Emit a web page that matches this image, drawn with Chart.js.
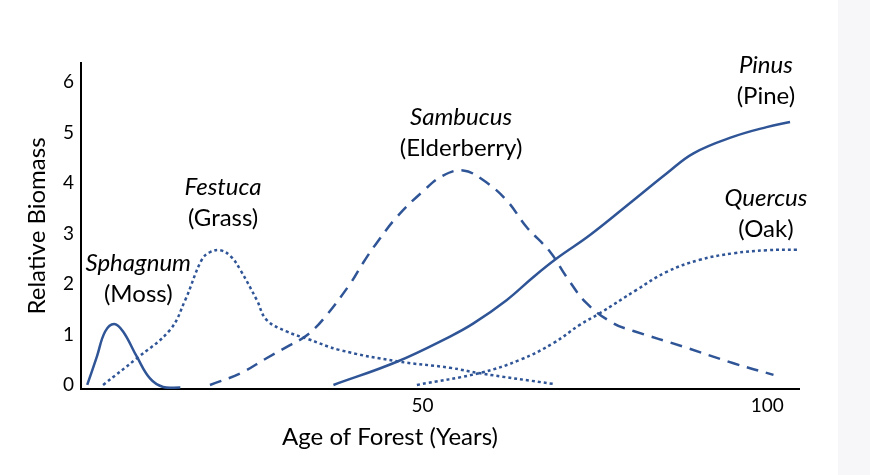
<!DOCTYPE html>
<html>
<head>
<meta charset="utf-8">
<script src="https://cdn.jsdelivr.net/npm/chart.js@4.4.1/dist/chart.umd.min.js"></script>
<style>
  html, body { margin: 0; padding: 0; }
  body { width: 870px; height: 475px; background: #f7f7f9; overflow: hidden; }
  #wrap { width: 838px; height: 475px; background: #fff; }
</style>
</head>
<body>
<div id="wrap"><canvas id="myChart" width="838" height="475"></canvas></div>
<script>
// values (age in years, relative biomass)
let sphagnum_x = [1.4, 2.8, 4.0, 5.3, 6.6, 8.6, 10.5, 12.4, 14.9];
let sphagnum_y = [0, 0.56, 1.06, 1.21, 1.06, 0.56, 0.13, -0.04, -0.05];

let festuca_x = [3.7, 8.6, 13.4, 15.6, 18.0, 19.2, 20.7, 22.2, 23.6, 26.0, 27.4, 30.3, 33.2, 38.1, 46.3, 54.0, 58.4, 69.0];
let festuca_y = [0, 0.53, 1.09, 1.68, 2.48, 2.63, 2.67, 2.55, 2.28, 1.68, 1.29, 1.06, 0.92, 0.69, 0.47, 0.34, 0.23, 0.02];

let sambucus_x = [19.2, 23.6, 27.4, 30.8, 33.2, 35.6, 39.5, 41.4, 43.4, 46.3, 50.1, 53.0, 55.9, 58.8, 62.2, 65.1, 68.5, 70.9, 73.8, 77.7, 80.6, 87.8, 95.1, 100.9];
let sambucus_y = [0, 0.23, 0.53, 0.79, 0.98, 1.3, 2.0, 2.42, 2.82, 3.33, 3.84, 4.15, 4.25, 4.06, 3.66, 3.13, 2.64, 2.14, 1.62, 1.22, 1.07, 0.76, 0.43, 0.2];

let pinus_x = [37.1, 46.3, 54.0, 57.4, 62.2, 66.1, 69.5, 74.3, 80.6, 85.4, 89.3, 95.1, 99.9, 103.3];
let pinus_y = [0, 0.46, 0.96, 1.22, 1.68, 2.14, 2.51, 2.97, 3.66, 4.19, 4.59, 4.92, 5.11, 5.21];

let quercus_x = [49.2, 58.4, 64.2, 69.0, 72.8, 75.7, 81.0, 85.4, 90.2, 95.1, 99.9, 104.3];
let quercus_y = [0, 0.24, 0.5, 0.83, 1.19, 1.42, 1.88, 2.24, 2.48, 2.61, 2.67, 2.68];

// curve labels, anchored in data units
let label_names = ['Sphagnum', 'Festuca', 'Sambucus', 'Pinus', 'Quercus'];
let label_common = ['(Moss)', '(Grass)', '(Elderberry)', '(Pine)', '(Oak)'];
let label_x = [8.8, 21.1, 55.6, 99.8, 99.8];
let label_y = [2.42, 3.92, 5.31, 6.34, 3.69];

let x_title = 'Age of Forest (Years)';
let x_title_at = 45.3;
let y_title = 'Relative Biomass';

let blue = '#2f5597';
Chart.defaults.font.family = 'Lato, sans-serif';
Chart.defaults.color = '#000';

function pts(xs, ys) {
    return xs.map(function (x, i) { return { x: x, y: ys[i] } });
}

let curveLabels = {
    id: 'curveLabels',
    afterDraw: function (chart) {
        let c = chart.ctx;
        let xs = chart.scales.x, ys = chart.scales.y;
        c.save();
        c.fillStyle = '#000';
        c.textAlign = 'center';
        c.textBaseline = 'middle';
        for (let i = 0; i < label_names.length; i++) {
            let px = xs.getPixelForValue(label_x[i]);
            let py = ys.getPixelForValue(label_y[i]);
            c.font = 'italic 24px Lato, sans-serif';
            c.fillText(label_names[i], px, py);
            c.font = '24px Lato, sans-serif';
            c.fillText(label_common[i], px, py + 31);
        }
        // x axis title sits left of centre in the original
        c.font = '24px Lato, sans-serif';
        c.fillText(x_title, xs.getPixelForValue(x_title_at), chart.height - 38);
        c.restore();
    }
};

function line(label, xs, ys, dash) {
    return {
        label: label,
        data: pts(xs, ys),
        borderColor: blue,
        borderWidth: 2.5,
        borderDash: dash,
        borderCapStyle: 'butt',
        pointRadius: 0,
        fill: false,
        tension: 0.4
    };
}

let myChart = new Chart('myChart', {
    type: 'line',
    data: {
        datasets: [
            line('Sphagnum', sphagnum_x, sphagnum_y, []),
            line('Festuca', festuca_x, festuca_y, [3, 3]),
            line('Sambucus', sambucus_x, sambucus_y, [12, 8]),
            line('Pinus', pinus_x, pinus_y, []),
            line('Quercus', quercus_x, quercus_y, [3, 3])
        ]
    },
    options: {
        responsive: false,
        animation: false,
        layout: { padding: { top: 63, right: 39, bottom: 0, left: 0 } },
        plugins: {
            legend: { display: false },
            tooltip: { enabled: false }
        },
        scales: {
            x: {
                type: 'linear',
                min: 0.5,
                max: 104.6,
                grid: { display: false, drawTicks: false },
                border: { display: true, color: '#000', width: 2 },
                ticks: { stepSize: 50, includeBounds: false, padding: 5, font: { size: 19 } },
                afterFit: function (s) { s.height = 86; }
            },
            y: {
                min: -0.08,
                max: 6.38,
                grid: { display: false, drawTicks: false },
                border: { display: true, color: '#000', width: 2 },
                ticks: { stepSize: 1, includeBounds: false, padding: 7, font: { size: 19 } },
                title: {
                    display: true,
                    text: y_title,
                    font: { size: 24 },
                    padding: { top: 23, bottom: 0 }
                },
                afterFit: function (s) { s.width = 81; }
            }
        }
    },
    plugins: [curveLabels]
});
</script>
</body>
</html>
